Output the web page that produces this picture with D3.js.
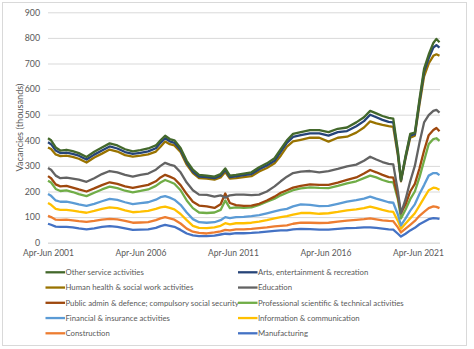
<!DOCTYPE html>
<html>
<head>
<meta charset="utf-8">
<script src="https://cdn.jsdelivr.net/npm/d3@7"></script>
<style>
  body { margin: 0; background: #fff; }
  text { font-family: Lato, "Liberation Sans", sans-serif; fill: #595959; }
</style>
</head>
<body>
<script>
// month offset from Apr-Jun 2001 (rolling 3-month periods)
var periods = [0,2,5,8,12,16,20,25,30,35,40,45,50,55,60,65,70,73,76,79,82,86,90,94,98,103,108,112,115,118,122,127,132,137,142,147,151,155,159,164,170,176,182,188,194,200,205,209,213,217,221,224,227,229,232,235,238,241,244,247,250,252,254];

var tickIdx = [0, 60, 120, 180, 240];
var tickLabels = ["Apr-Jun 2001", "Apr-Jun 2006", "Apr-Jun 2011", "Apr-Jun 2016", "Apr-Jun 2021"];

// cumulative (stacked) levels, thousands
var otherService = [408,400,372,360,363,358,350,335,355,372,388,380,365,357,362,368,380,400,418,405,400,370,320,285,265,262,258,268,290,262,265,270,275,295,310,330,365,400,425,432,440,440,432,445,450,470,490,515,505,495,488,485,360,245,340,425,430,560,680,735,780,796,783];
var arts = [392,385,360,350,352,347,340,325,344,360,376,368,354,347,351,357,369,390,408,396,390,362,313,278,258,256,252,262,284,256,259,264,268,287,302,320,355,390,413,420,427,427,418,432,436,455,475,500,490,480,472,470,350,243,335,418,424,550,668,720,762,772,762];
var health = [372,366,345,338,340,335,328,313,333,348,364,356,342,336,340,345,356,375,395,385,380,354,305,272,252,250,246,255,276,250,252,256,260,278,292,310,340,375,396,402,410,410,395,410,414,430,450,474,466,460,455,452,340,240,330,410,418,540,650,700,730,736,730];
var education = [292,285,262,252,254,250,246,238,252,268,280,275,265,258,265,270,285,300,312,305,300,275,235,205,188,187,180,185,176,185,188,188,186,188,200,220,240,258,272,278,280,275,280,288,298,305,320,336,325,315,308,306,200,115,170,240,300,390,470,498,515,519,508];
var publicAdmin = [260,252,228,220,222,215,208,200,212,225,236,230,220,214,220,226,240,255,265,258,250,225,190,160,145,142,136,150,192,155,147,144,145,152,165,180,195,205,215,222,228,226,226,235,245,255,270,284,275,265,256,254,180,115,150,200,230,290,360,420,440,448,435];
var professional = [242,235,210,202,204,198,190,182,195,208,219,213,203,197,202,208,222,235,245,238,230,205,165,135,118,116,118,128,165,135,138,136,138,148,160,172,185,195,205,212,216,214,213,222,232,240,252,262,255,245,238,236,170,95,130,170,200,255,320,385,405,408,398];
var financial = [190,183,165,160,160,156,150,144,152,162,171,167,158,151,155,158,168,178,182,176,168,148,118,92,80,78,80,88,100,96,100,101,104,108,115,122,128,132,142,150,148,143,144,152,160,166,172,180,172,165,158,156,110,68,95,125,150,190,225,262,272,272,264];
var information = [155,148,132,128,128,125,121,117,124,132,138,135,126,119,121,124,132,138,141,136,130,112,88,66,58,57,60,66,76,72,76,76,78,82,88,95,100,104,110,116,116,113,115,120,126,130,135,141,135,128,122,120,85,55,75,95,115,145,175,205,215,213,207];
var construction = [105,100,90,89,90,87,84,81,85,90,93,91,85,78,79,80,88,95,100,95,90,75,55,43,38,36,40,44,50,48,52,52,54,57,60,64,66,68,74,78,78,77,78,82,86,89,92,95,91,87,85,84,60,40,55,70,85,105,120,135,142,140,135];
var manufacturing = [74,70,63,62,62,60,56,52,56,62,65,62,56,50,51,52,58,65,70,66,62,50,36,29,26,26,28,32,35,34,37,37,38,40,43,46,48,48,52,54,53,51,51,54,57,58,60,60,58,55,52,51,35,24,35,48,58,72,82,92,96,95,93];

var seriesNames = ["Other service activities", "Arts, entertainment & recreation",
  "Human health & social work activities", "Education",
  "Public admin & defence; compulsory social security", "Professional scientific & technical activities",
  "Financial & insurance activities", "Information & communication",
  "Construction", "Manufacturing"];
var seriesValues = [otherService, arts, health, education, publicAdmin, professional,
  financial, information, construction, manufacturing];
var colors = ["#43682b", "#264478", "#997300", "#636363", "#9e480e", "#70ad47",
  "#5b9bd5", "#ffc000", "#ed7d31", "#4472c4"];

var w = 474, h = 349;

var svg = d3.select("body").append("svg")
  .attr("width", w)
  .attr("height", h);

// chart frame
svg.append("rect")
  .attr("x", 2.5).attr("y", 2.5)
  .attr("width", 464).attr("height", 343)
  .attr("fill", "#fff")
  .attr("stroke", "#d9d9d9");

var x = d3.scaleLinear().domain([0, 254]).range([48, 439.5]);
var y = d3.scaleLinear().domain([0, 900]).range([242.7, 12.3]);

// gridlines + y labels
var yAxis = d3.axisLeft(y).tickValues(d3.range(0, 901, 100)).tickSize(-(440 - 48)).tickPadding(8);
var gy = svg.append("g").attr("transform", "translate(48,0)").call(yAxis);
gy.select(".domain").remove();
gy.selectAll(".tick line").attr("stroke", "#d9d9d9");
gy.selectAll(".tick text").style("font-size", "8.8px").attr("fill", "#595959");

// x labels
var xAxis = d3.axisBottom(x).tickValues(tickIdx).tickFormat(function(d, i) { return tickLabels[i]; }).tickSize(0).tickPadding(7);
var gx = svg.append("g").attr("transform", "translate(0,242.7)").call(xAxis);
gx.select(".domain").attr("stroke", "#d9d9d9").attr("d", "M48,0.5H440");
gx.selectAll(".tick text").style("font-size", "8.5px").attr("fill", "#595959");

svg.append("text")
  .attr("transform", "translate(20.5,127.5) rotate(-90)")
  .attr("text-anchor", "middle")
  .attr("dominant-baseline", "middle")
  .style("font-size", "9.2px")
  .text("Vacancies (thousands)");

var line = d3.line()
  .x(function(d, i) { return x(periods[i]); })
  .y(function(d) { return y(d); });

// bottom series drawn first
svg.selectAll("path.series")
  .data(d3.range(seriesValues.length).reverse())
  .enter()
  .append("path")
  .attr("class", "series")
  .attr("d", function(k) { return line(seriesValues[k]); })
  .attr("fill", "none")
  .attr("stroke", function(k) { return colors[k]; })
  .attr("stroke-width", 2.3)
  .attr("stroke-linejoin", "round");

// legend, two columns
var legend = svg.selectAll("g.legend")
  .data(seriesNames)
  .enter()
  .append("g")
  .attr("class", "legend")
  .attr("transform", function(d, i) {
    var col = i % 2, row = Math.floor(i / 2);
    return "translate(" + (col ? 238 : 45.5) + "," + (272.3 + row * 15.25) + ")";
  });

legend.append("line")
  .attr("x1", 0).attr("x2", 19.5)
  .attr("stroke", function(d, i) { return colors[i]; })
  .attr("stroke-width", 2.3);

legend.append("text")
  .attr("x", 20)
  .attr("dy", "0.35em")
  .style("font-size", "7.75px")
  .text(function(d) { return d; });
</script>
</body>
</html>
